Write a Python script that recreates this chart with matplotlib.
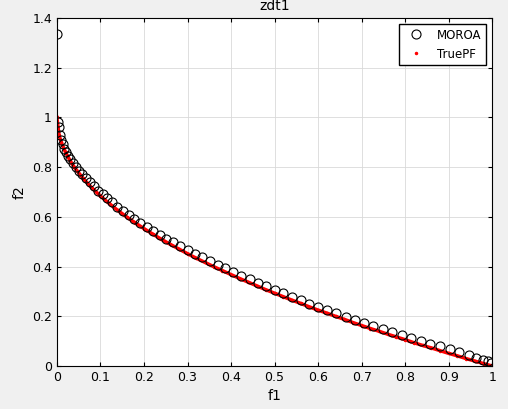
import matplotlib.pyplot as plt

# True Pareto front values
pf_f1 = [0.00, 0.005, 0.01, 0.02, 0.03, 0.04, 0.06, 0.08, 0.10, 0.12, 0.14, 0.16, 0.18, 0.20,
         0.22, 0.24, 0.26, 0.28, 0.30, 0.32, 0.34, 0.36, 0.38, 0.40, 0.42, 0.44,
         0.46, 0.48, 0.50, 0.52, 0.54, 0.56, 0.58, 0.60, 0.62, 0.64, 0.66, 0.68,
         0.70, 0.72, 0.74, 0.76, 0.78, 0.80, 0.82, 0.84, 0.86, 0.88, 0.90, 0.92,
         0.94, 0.96, 0.98, 1.00]
pf_f2 = [1.000, 0.929, 0.900, 0.859, 0.827, 0.800, 0.755, 0.717, 0.684, 0.654, 0.626, 0.600, 0.576, 0.553,
         0.531, 0.510, 0.490, 0.471, 0.452, 0.434, 0.417, 0.400, 0.384, 0.368, 0.352, 0.337,
         0.322, 0.307, 0.293, 0.279, 0.265, 0.252, 0.238, 0.225, 0.213, 0.200, 0.188, 0.175,
         0.163, 0.151, 0.140, 0.128, 0.117, 0.106, 0.094, 0.083, 0.073, 0.062, 0.051, 0.041,
         0.030, 0.020, 0.010, 0.000]

# MOROA solutions
mo_f1 = [0.000, 0.002, 0.004, 0.007, 0.010, 0.013, 0.017, 0.021, 0.026, 0.031, 0.037, 0.044,
         0.051, 0.058, 0.066, 0.075, 0.085, 0.095, 0.105, 0.115, 0.127, 0.139, 0.152, 0.165,
         0.178, 0.192, 0.206, 0.221, 0.236, 0.251, 0.267, 0.283, 0.300, 0.317, 0.334, 0.351,
         0.369, 0.387, 0.405, 0.424, 0.443, 0.462, 0.481, 0.500, 0.520, 0.540, 0.560, 0.580,
         0.600, 0.621, 0.642, 0.663, 0.684, 0.705, 0.726, 0.748, 0.770, 0.792, 0.814, 0.836,
         0.858, 0.880, 0.902, 0.924, 0.946, 0.962, 0.978, 0.990, 0.998]
mo_f2 = [1.335, 0.980, 0.960, 0.930, 0.910, 0.892, 0.875, 0.862, 0.846, 0.832, 0.818, 0.800,
         0.785, 0.772, 0.758, 0.740, 0.724, 0.706, 0.692, 0.677, 0.660, 0.640, 0.622, 0.606,
         0.590, 0.574, 0.559, 0.542, 0.528, 0.512, 0.499, 0.482, 0.466, 0.451, 0.437, 0.423,
         0.408, 0.393, 0.378, 0.363, 0.349, 0.335, 0.320, 0.307, 0.293, 0.279, 0.265, 0.251,
         0.238, 0.225, 0.212, 0.198, 0.186, 0.174, 0.162, 0.150, 0.138, 0.126, 0.114, 0.102,
         0.090, 0.080, 0.068, 0.057, 0.044, 0.034, 0.026, 0.020, 0.014]

fig = plt.figure(figsize=(5.08, 4.09), dpi=100, facecolor='#f0f0f0')
ax = fig.add_axes([0.112, 0.105, 0.857, 0.851])

ax.plot(pf_f1, pf_f2, '-', color='red', lw=2.5, zorder=2)
ax.plot(mo_f1, mo_f2, 'o', mfc='none', mec='black', ms=6.5, mew=0.8, label='MOROA', zorder=3)
ax.plot(pf_f1, pf_f2, '.', color='red', ms=3, label='TruePF', zorder=2)

ax.set_xlim(0, 1)
ax.set_ylim(0, 1.4)
ax.set_xticks([0, 0.1, 0.2, 0.3, 0.4, 0.5, 0.6, 0.7, 0.8, 0.9, 1])
ax.set_xticklabels(['0', '0.1', '0.2', '0.3', '0.4', '0.5', '0.6', '0.7', '0.8', '0.9', '1'])
ax.set_yticks([0, 0.2, 0.4, 0.6, 0.8, 1, 1.2, 1.4])
ax.set_yticklabels(['0', '0.2', '0.4', '0.6', '0.8', '1', '1.2', '1.4'])
ax.tick_params(direction='in', labelsize=9, top=True, right=True, length=3)
ax.grid(True, color='#d9d9d9', lw=0.6)
ax.set_axisbelow(True)
ax.set_xlabel('f1', fontsize=10)
ax.set_ylabel('f2', fontsize=10)
ax.set_title('zdt1', fontsize=10)
ax.legend(loc='upper right', fontsize=8.5, fancybox=False, edgecolor='black', framealpha=1)

fig.savefig('out.png', facecolor=fig.get_facecolor())
